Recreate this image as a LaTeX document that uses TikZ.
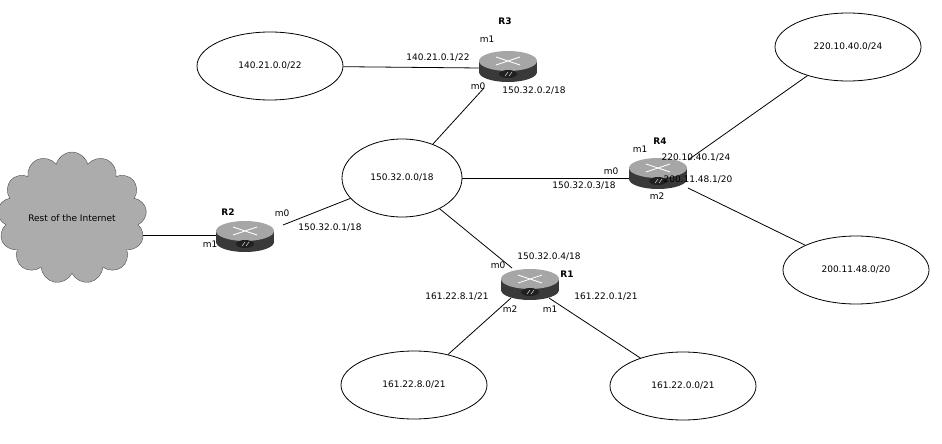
\documentclass[tikz,border=0pt]{standalone}
\usepackage{fontspec}
\setmainfont{DejaVu Sans}
\usetikzlibrary{shapes.symbols,shapes.geometric}
\begin{document}
\begin{tikzpicture}[x=1pt,y=-1pt,
  net/.style={draw,thick,ellipse,minimum width=146pt,minimum height=68pt,font=\fontsize{9}{10}\selectfont},
  lbl/.style={font=\fontsize{9}{10}\selectfont,inner sep=0pt},
  rname/.style={font=\bfseries\fontsize{9}{10}\selectfont,inner sep=0pt},
  link/.style={thick},
  router/.style={minimum width=58pt,minimum height=30pt,inner sep=0pt,ellipse}]
\useasboundingbox (0,0) rectangle (942,444);
\newcommand{\routerpic}[2]{%
  \begin{scope}[shift={(#1,#2)}]
    \fill[gray!45!black] (0,7) ellipse[x radius=29,y radius=10];
    \fill[gray!45!black] (-29,-4) rectangle (29,7);
    \fill[gray!70] (0,-4) ellipse[x radius=29,y radius=10];
    \draw[white,thick] (-12,-8)--(12,0) (-12,0)--(12,-8);
    \fill[gray!25!black] (0,9) ellipse[x radius=9,y radius=4];
    \draw[white,thin] (-3,11)--(0,7) (1,11)--(4,7);
  \end{scope}}
\node[net] (n140) at (270,66) {140.21.0.0/22};
\node[net,minimum width=120pt,minimum height=78pt] (n150) at (402,178) {150.32.0.0/18};
\node[net] (n220) at (848,47) {220.10.40.0/24};
\node[net] (n200) at (856,270) {200.11.48.0/20};
\node[net] (n1618) at (414,385) {161.22.8.0/21};
\node[net] (n1610) at (683,386) {161.22.0.0/21};
\node[cloud,cloud puffs=13,aspect=1.2,fill=gray!65,draw=gray!60!black,minimum width=140pt,minimum height=112pt,font=\fontsize{9}{10}\selectfont] (cl) at (72,218) {Rest of the Internet};
\node[router] (r3) at (508,65) {};
\node[router] (r2) at (245,235) {};
\node[router] (r4) at (658,172) {};
\node[router] (r1) at (530,283) {};
\coordinate (r3w) at (480,68); \coordinate (r3s) at (484,88);
\coordinate (r2w) at (217,235); \coordinate (r2e) at (283,225);
\coordinate (clr) at (143,235);
\coordinate (r4w) at (630,178); \coordinate (r4ne) at (688,160); \coordinate (r4se) at (688,188);
\coordinate (r1n) at (512,268); \coordinate (r1sw) at (511,298); \coordinate (r1se) at (549,298);
\draw[link] (n140) -- (r3w);
\draw[link] (r3s) -- (n150);
\draw[link] (clr) -- (r2w);
\draw[link] (r2e) -- (n150);
\draw[link] (n150.east) -- (r4w);
\draw[link] (r4ne) -- (n220);
\draw[link] (r4se) -- (n200);
\draw[link] (n150) -- (r1n);
\draw[link] (r1sw) -- (n1618);
\draw[link] (r1se) -- (n1610);
\routerpic{508}{65}\routerpic{245}{235}\routerpic{658}{172}\routerpic{530}{283}
\node[rname] (t3) at (505,21) {R3};
\node[lbl] (a1) at (487,39) {m1};
\node[lbl] (a2) at (438,58) {140.21.0.1/22};
\node[lbl] (a3) at (478,86) {m0};
\node[lbl] (a4) at (534,91) {150.32.0.2/18};
\node[rname] (t4) at (660,141) {R4};
\node[lbl] (b1) at (640,149) {m1};
\node[lbl] (b2) at (696,158) {220.10.40.1/24};
\node[lbl] (b3) at (698,180) {200.11.48.1/20};
\node[lbl] (b4) at (657,196) {m2};
\node[lbl] (b5) at (611,171) {m0};
\node[lbl] (b6) at (584,186) {150.32.0.3/18};
\node[rname] (t2) at (228,212) {R2};
\node[lbl] (c1) at (282,213) {m0};
\node[lbl] (c2) at (330,228) {150.32.0.1/18};
\node[lbl] (c3) at (210,244) {m1};
\node[rname] (t1) at (567,274) {R1};
\node[lbl] (d1) at (498,265) {m0};
\node[lbl] (d2) at (549,257) {150.32.0.4/18};
\node[lbl] (d3) at (457,297) {161.22.8.1/21};
\node[lbl] (d4) at (510,309) {m2};
\node[lbl] (d5) at (550,309) {m1};
\node[lbl] (d6) at (606,297) {161.22.0.1/21};
\end{tikzpicture}
\end{document}
